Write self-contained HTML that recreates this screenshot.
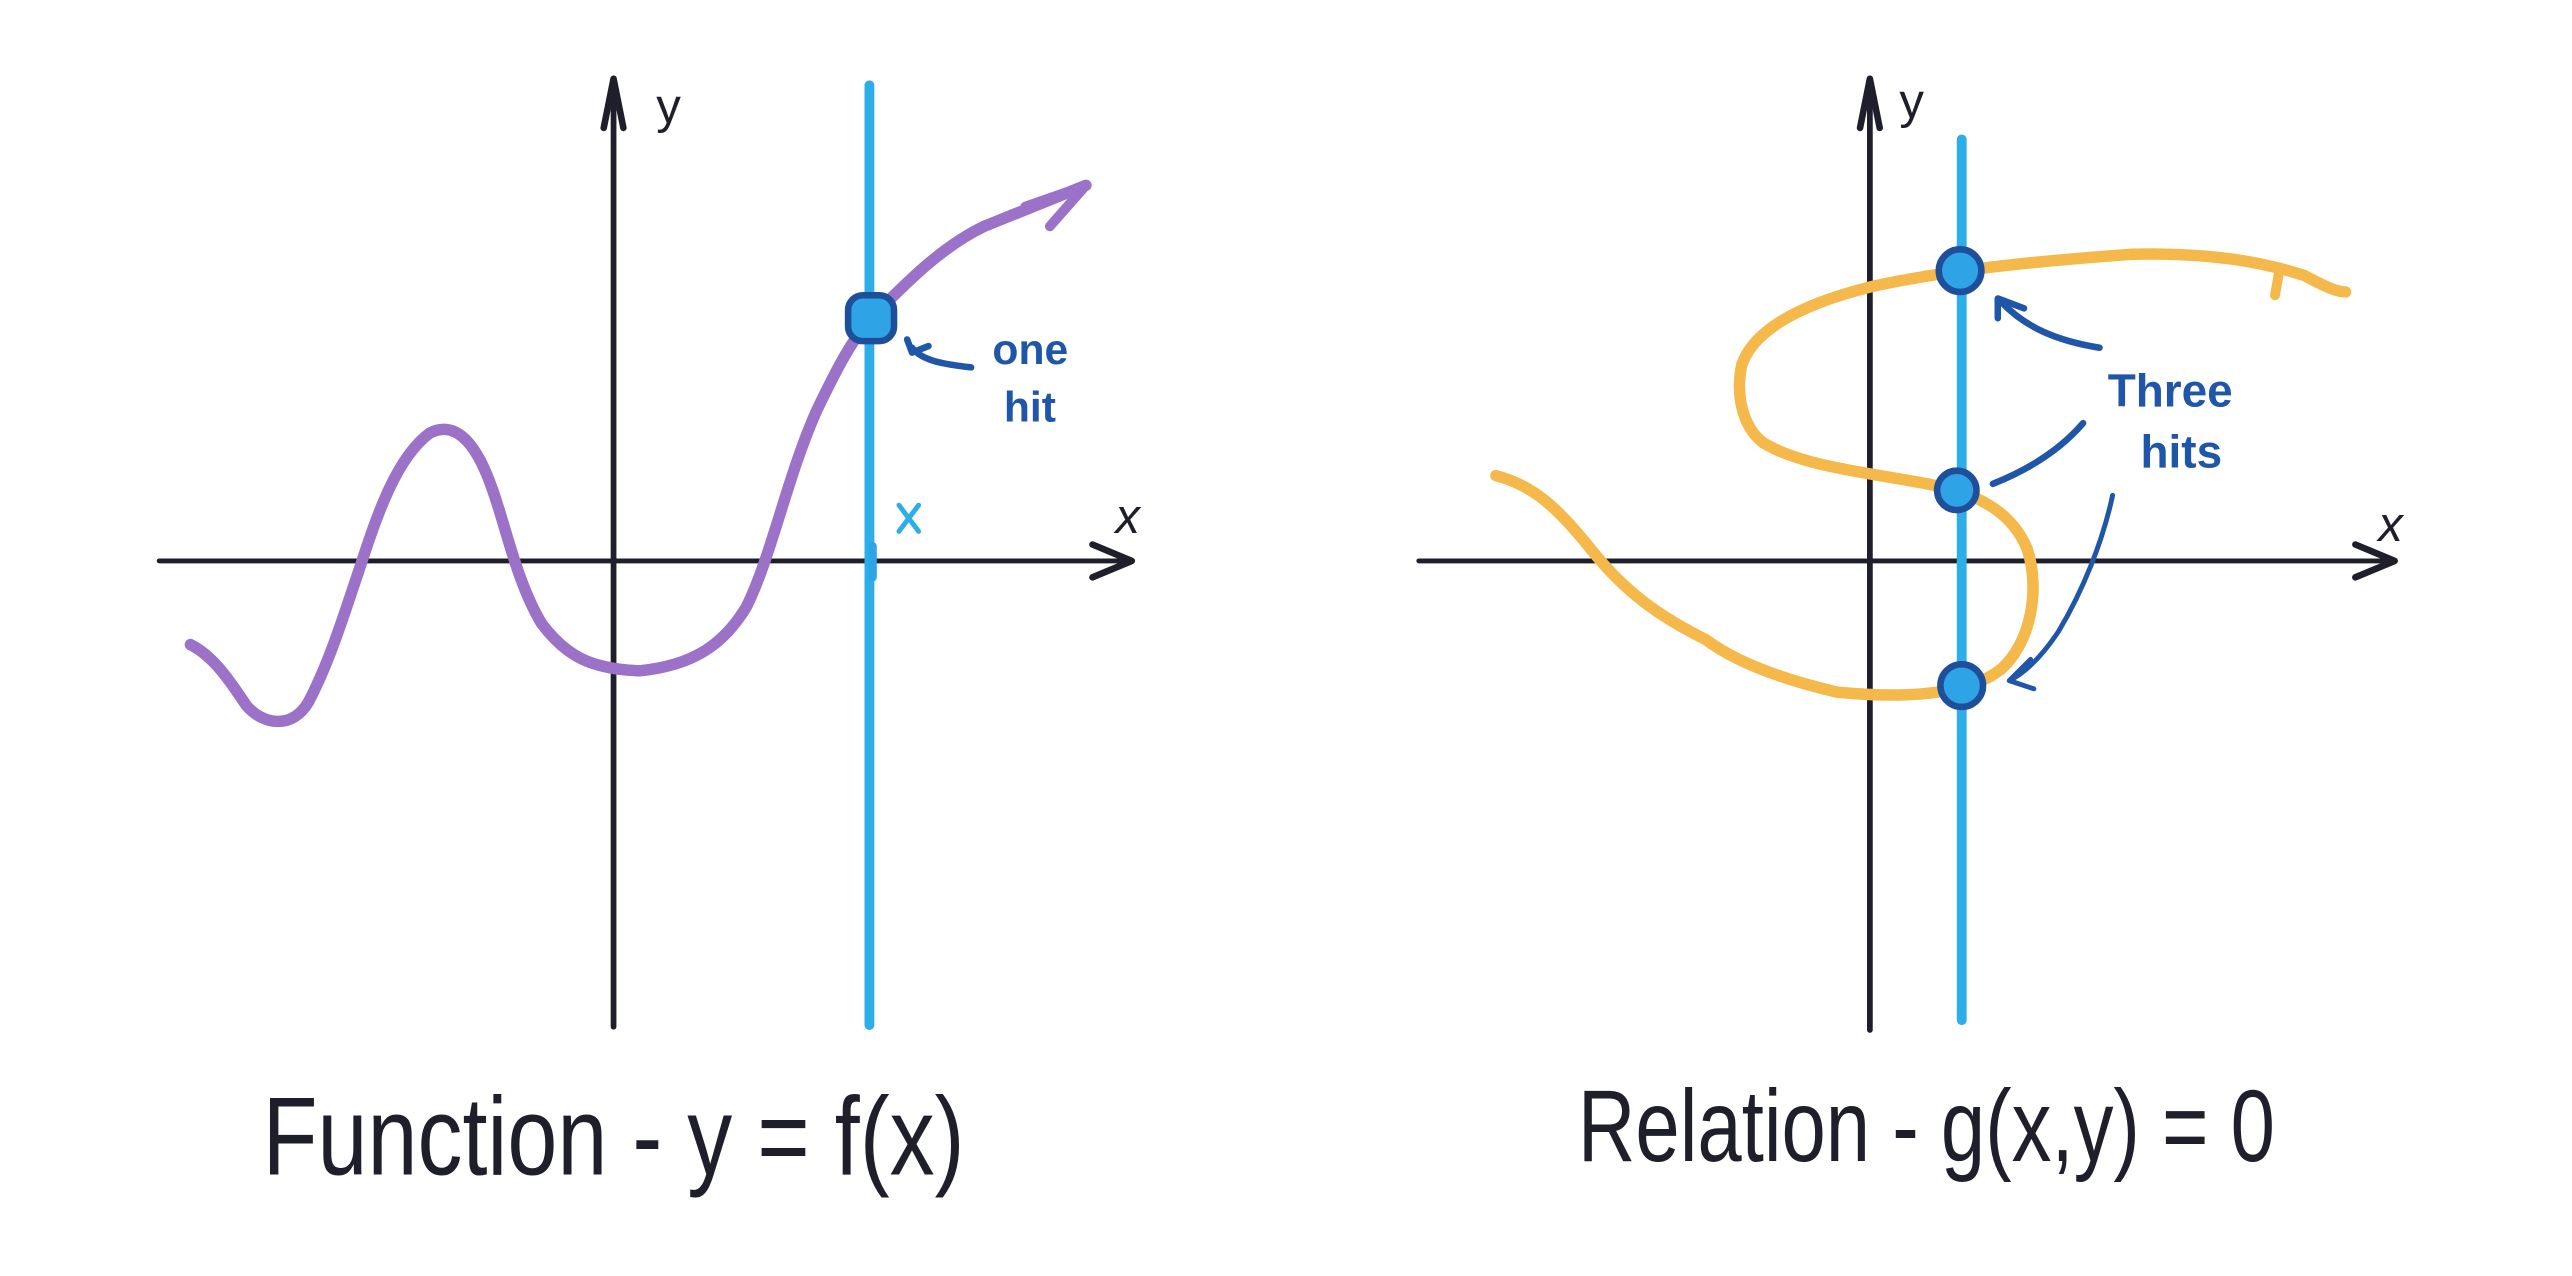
<!DOCTYPE html>
<html><head><style>html,body{margin:0;padding:0;background:#fff}svg{display:block}</style></head><body>
<svg width="2572" height="1276" viewBox="0 0 1568 778" xmlns="http://www.w3.org/2000/svg">
<g fill="none" stroke-linecap="round" stroke-linejoin="round">
<!-- Left axes -->
<path d="M97 342 L688 342" stroke="#1e1f2b" stroke-width="3"/>
<path d="M666 332 L690 342 L666 352" stroke="#1e1f2b" stroke-width="4"/>
<path d="M374 52 L374 626" stroke="#1e1f2b" stroke-width="3.5"/>
<path d="M368 78 L374 48 L380 78" stroke="#1e1f2b" stroke-width="4"/>
<path d="M530 52 L530 625" stroke="#2eaee8" stroke-width="6"/>
<path d="M116 393 C130 400 140 415 150 430 C160 442 178 445 188 428 C200 405 208 380 218 350 C228 320 240 280 262 264 C280 255 292 275 300 298 C308 320 315 355 330 380 C345 400 360 408 390 409 C420 406 440 395 455 370 C470 340 480 290 498 250 C510 225 520 205 535 190 C555 170 575 150 600 138 C620 130 640 122 662 113" stroke="#9b72c8" stroke-width="7"/>
<path d="M625 126 L662 113 L640 138" stroke="#9b72c8" stroke-width="6"/>
<rect x="517" y="180" width="28" height="28" rx="9" fill="#2ea3e6" stroke="#1f4f9a" stroke-width="4"/>
<path d="M592 224 C575 222 562 220 556 212" stroke="#1f56a8" stroke-width="4"/>
<path d="M553 207 L556 215 L566 211" stroke="#1f56a8" stroke-width="4"/>
<path d="M548 308 L560 324 M560 308 L548 324" stroke="#2eaee8" stroke-width="3"/>
<path d="M532 333 L532 352" stroke="#2ea3e6" stroke-width="5"/>
<!-- Right axes -->
<path d="M865 342 L1458 342" stroke="#1e1f2b" stroke-width="3"/>
<path d="M1436 332 L1460 342 L1436 352" stroke="#1e1f2b" stroke-width="4"/>
<path d="M1140 52 L1140 628" stroke="#1e1f2b" stroke-width="3.5"/>
<path d="M1134 78 L1140 48 L1146 78" stroke="#1e1f2b" stroke-width="4"/>
<path d="M1196 85 L1196 622" stroke="#2eaee8" stroke-width="6"/>
<path d="M912 290 C935 296 950 310 970 335 C990 360 1010 375 1040 390 C1060 405 1090 415 1120 422 C1160 426 1200 424 1220 408 C1238 392 1244 360 1236 335 C1228 315 1210 302 1180 296 C1140 288 1100 285 1075 270 C1062 260 1058 240 1062 222 C1070 200 1100 185 1140 175 C1180 166 1230 160 1300 155 C1350 154 1380 160 1405 168 C1418 175 1425 178 1430 178" stroke="#f4b94a" stroke-width="7"/>
<path d="M1390 163 L1387 180" stroke="#f4b94a" stroke-width="6"/>
<circle cx="1195" cy="165" r="13" fill="#2ea3e6" stroke="#1f4f9a" stroke-width="4"/>
<circle cx="1193" cy="299" r="12" fill="#2ea3e6" stroke="#1f4f9a" stroke-width="4"/>
<circle cx="1196" cy="418" r="13" fill="#2ea3e6" stroke="#1f4f9a" stroke-width="4"/>
<path d="M1280 212 C1255 208 1235 200 1220 184" stroke="#1f56a8" stroke-width="4"/>
<path d="M1218 194 L1218 182 L1234 188" stroke="#1f56a8" stroke-width="4"/>
<path d="M1270 258 C1258 272 1240 285 1215 295" stroke="#1f56a8" stroke-width="4"/>
<path d="M1288 302 C1282 330 1270 360 1255 385 C1245 400 1235 410 1225 415" stroke="#1f56a8" stroke-width="3"/>
<path d="M1238 402 L1225 415 L1240 420" stroke="#1f56a8" stroke-width="3"/>
</g>
<g font-family="'Liberation Sans Narrow','Liberation Sans',sans-serif" fill="#1e1f2b">
<text x="400" y="75" font-size="30">y</text>
<text x="680" y="325" font-size="30" font-style="italic">x</text>
<text x="1158" y="72" font-size="30">y</text>
<text x="1450" y="330" font-size="30" font-style="italic">x</text>
<text x="160" y="716" font-size="68" textLength="428" lengthAdjust="spacingAndGlyphs">Function - y = f(x)</text>
<text x="962" y="708" font-size="62" textLength="425" lengthAdjust="spacingAndGlyphs">Relation - g(x,y) = 0</text>
</g>
<g font-family="'Liberation Sans Narrow','Liberation Sans',sans-serif" fill="#1f56a8" font-weight="bold">
<text x="605" y="222" font-size="26">one</text>
<text x="612" y="257" font-size="26">hit</text>
<text x="1285" y="248" font-size="28">Three</text>
<text x="1305" y="285" font-size="28">hits</text>
</g>
</svg>
</body></html>
